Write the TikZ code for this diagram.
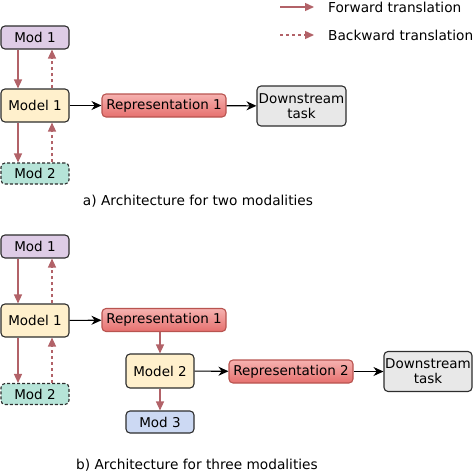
\documentclass[tikz,border=0pt]{standalone}
\usepackage{fontspec}
\setmainfont{DejaVu Sans}
\usepackage{tikz}
\usetikzlibrary{arrows.meta,calc}
\definecolor{ModPurple}{RGB}{222, 204, 230}
\definecolor{ModelYellow}{RGB}{255, 240, 204}
\definecolor{ModTeal}{RGB}{182, 228, 216}
\definecolor{ModBlue}{RGB}{204, 217, 243}
\definecolor{RepTop}{RGB}{246, 178, 176}
\definecolor{RepBottom}{RGB}{230, 112, 110}
\definecolor{RepBorder}{RGB}{184, 84, 80}
\definecolor{TaskGray}{RGB}{232, 232, 232}
\definecolor{Border}{RGB}{45, 45, 45}
\definecolor{Transl}{RGB}{178, 98, 104}

\tikzset{
  box/.style={draw=Border, line width=1.1pt, rounded corners=4pt, align=center,
    inner sep=1pt, font=\fontsize{13.5}{14}\selectfont},
  modbox/.style={box, minimum width=68pt, minimum height=23pt},
  modelbox/.style={box, fill=ModelYellow, minimum width=68pt, minimum height=33pt},
  repbox/.style={box, draw=RepBorder, top color=RepTop, bottom color=RepBottom,
    minimum width=124pt, minimum height=23pt},
  taskbox/.style={box, fill=TaskGray, minimum width=89pt, minimum height=40pt,
    inner sep=0pt, font=\fontsize{13.5}{15}\selectfont},
  fwd/.style={Transl, line width=1.4pt, -{Stealth[length=9pt,width=8pt,inset=0pt]}},
  bwd/.style={Transl, line width=1.4pt, dashed, dash pattern=on 3pt off 3pt,
    -{Stealth[length=9pt,width=8pt,inset=0pt]}},
  flow/.style={black, line width=1.1pt, -{Stealth[length=10pt,width=9pt]}},
  caption/.style={font=\fontsize{13.7}{15}\selectfont}
}

\begin{document}
\begin{tikzpicture}[x=1pt, y=-1pt]
    \useasboundingbox (0,0) rectangle (474,474);
    %%Legend
    \coordinate (fwdA) at (280,7);
    \coordinate (fwdB) at (314,7);
    \coordinate (bwdA) at (280,35);
    \coordinate (bwdB) at (314,35);
    \draw[fwd] (fwdA) -- (fwdB);
    \draw[bwd] (bwdA) -- (bwdB);
    \node[caption, anchor=west, inner sep=0pt] (fwdText) at (328,7) {Forward translation};
    \node[caption, anchor=west, inner sep=0pt] (bwdText) at (328,35) {Backward translation};

    %%Two modalities
    \node[modbox, fill=ModPurple] (modA1) at (35,37.5) {Mod 1};
    \node[modelbox] (modelA1) at (35,105.5) {Model 1};
    \node[modbox, fill=ModTeal, dashed, dash pattern=on 3pt off 2pt, minimum height=21pt] (modA2) at (35,173.5) {Mod 2};
    \node[repbox] (repA1) at (164,105.5) {Representation 1};
    \node[taskbox] (taskA) at (301.5,106) {Downstream\\task};
    \draw[fwd] ([xshift=-17pt]modA1.south) -- ([xshift=-17pt]modelA1.north);
    \draw[bwd] ([xshift=17pt]modelA1.north) -- ([xshift=17pt]modA1.south);
    \draw[fwd] ([xshift=-17pt]modelA1.south) -- ([xshift=-17pt]modA2.north);
    \draw[bwd] ([xshift=17pt]modA2.north) -- ([xshift=17pt]modelA1.south);
    \draw[flow] (modelA1) -- (repA1);
    \draw[flow] (repA1) -- (taskA);
    \node[caption] (capA) at (198,201) {a) Architecture for two modalities};

    %%Three modalities
    \node[modbox, fill=ModPurple] (modB1) at (35,246.5) {Mod 1};
    \node[modelbox] (modelB1) at (35,320.5) {Model 1};
    \node[modbox, fill=ModTeal, dashed, dash pattern=on 3pt off 2pt, minimum height=21pt] (modB2) at (35,394) {Mod 2};
    \node[repbox] (repB1) at (164,320) {Representation 1};
    \node[modelbox, minimum height=34pt] (modelB2) at (160,371) {Model 2};
    \node[modbox, fill=ModBlue, minimum height=22pt] (modB3) at (160,422) {Mod 3};
    \node[repbox] (repB2) at (291,371.5) {Representation 2};
    \node[taskbox, minimum width=88pt] (taskB) at (428,371.5) {Downstream\\task};
    \draw[fwd] ($(repB1.south)+(-4pt,0)$) -- (modelB2.north);
    \draw[fwd] ([xshift=-17pt]modB1.south) -- ([xshift=-17pt]modelB1.north);
    \draw[bwd] ([xshift=17pt]modelB1.north) -- ([xshift=17pt]modB1.south);
    \draw[fwd] ([xshift=-17pt]modelB1.south) -- ([xshift=-17pt]modB2.north);
    \draw[bwd] ([xshift=17pt]modB2.north) -- ([xshift=17pt]modelB1.south);
    \draw[flow] (modelB1) -- (repB1);
    \draw[fwd] (modelB2) -- (modB3);
    \draw[flow] (modelB2) -- (repB2);
    \draw[flow] (repB2) -- (taskB);
    \node[caption] (capB) at (197,465) {b) Architecture for three modalities};
\end{tikzpicture}
\end{document}
